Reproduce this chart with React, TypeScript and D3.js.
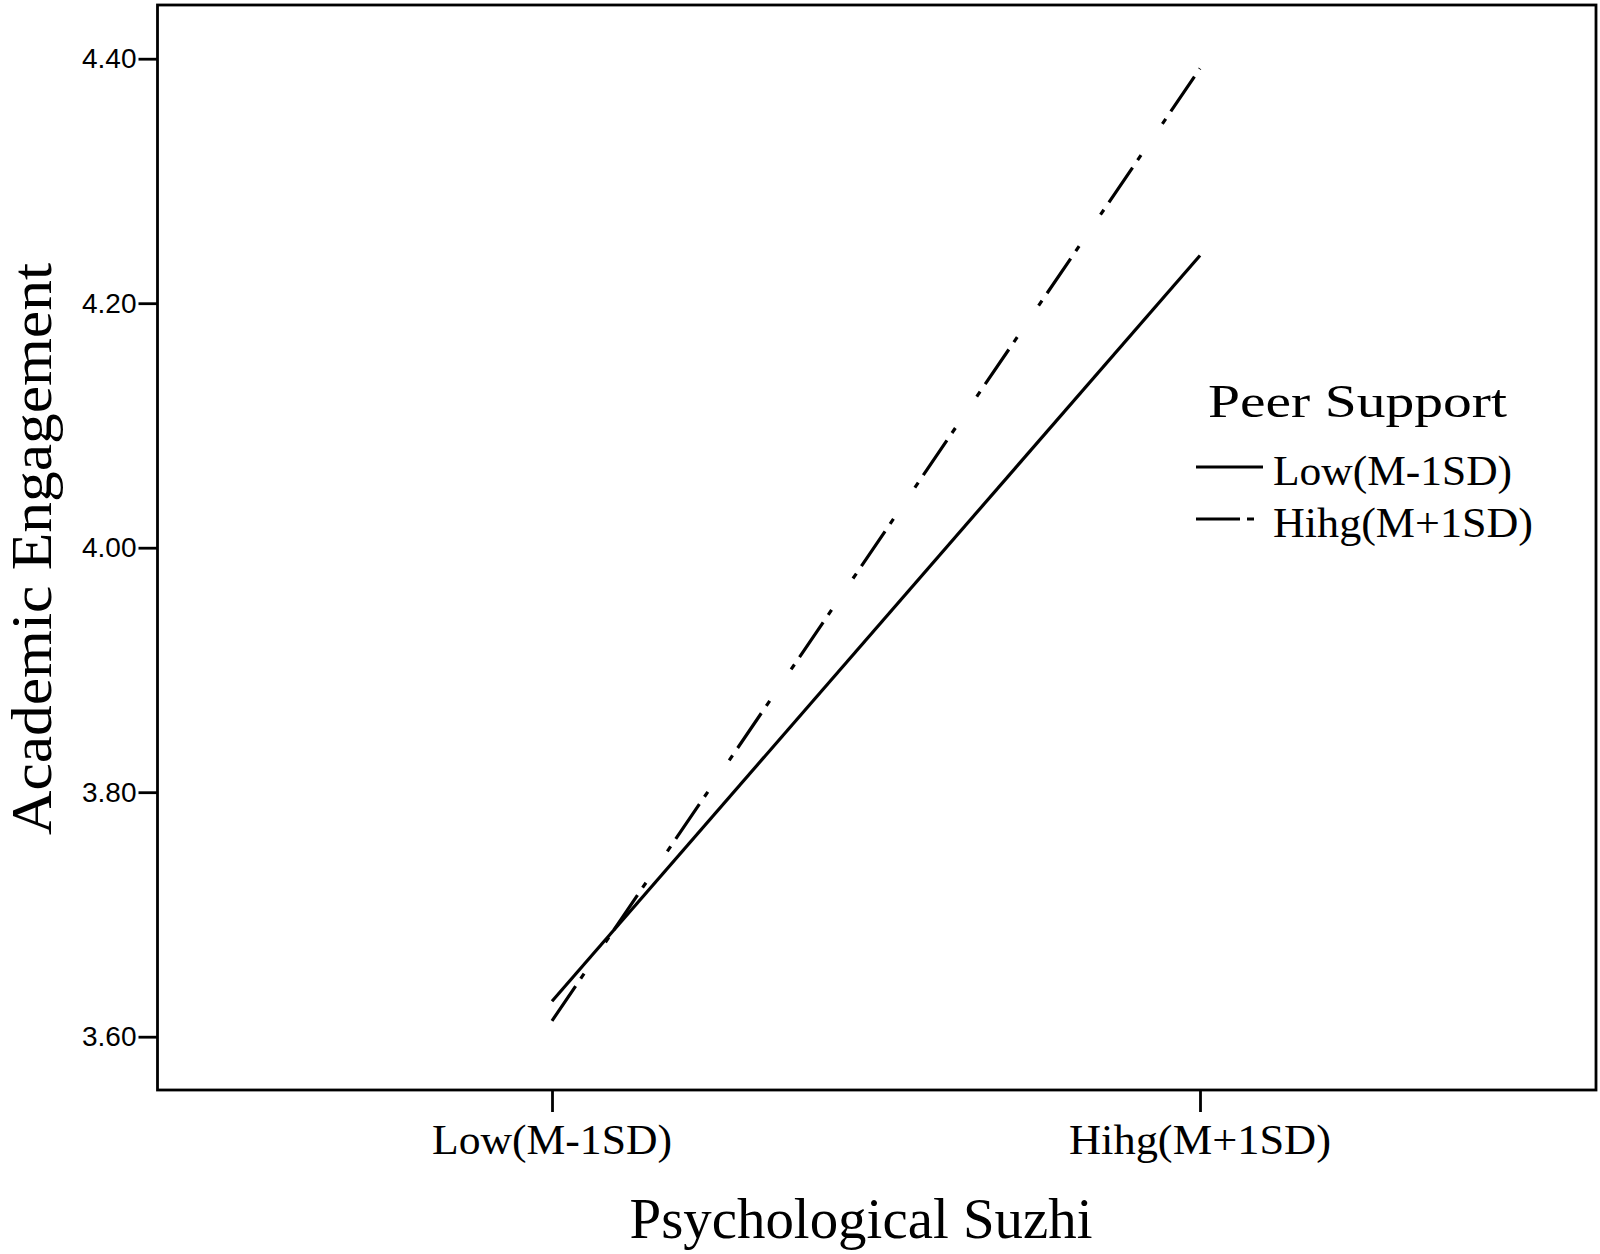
import React, { useEffect, useRef } from 'react';
import * as d3 from 'd3';

// x categories (Psychological Suzhi levels)
const categories = ['Low(M-1SD)', 'Hihg(M+1SD)'];
// Academic Engagement for each peer-support group
const lowPeer = [3.629, 4.239];
const highPeer = [3.613, 4.392];
const yTicks = [3.6, 3.8, 4.0, 4.2, 4.4];
const seriesNames = ['Low(M-1SD)', 'Hihg(M+1SD)'];

const W = 1600;
const H = 1254;
const serif = '"Liberation Serif", "Times New Roman", serif';
const sans = '"Liberation Sans", Arial, sans-serif';
const dashDot = '42 9 6 38 6 9';

const App: React.FC = () => {
  const svgRef = useRef<SVGSVGElement>(null);

  useEffect(() => {
    if (!svgRef.current) return;
    const svg = d3.select(svgRef.current);
    svg.selectAll('*').remove();

    // plot frame
    const frame = { left: 157.5, top: 5, right: 1596, bottom: 1090 };

    const x = d3.scalePoint<string>().domain(categories).range([552, 1200]);
    const y = d3.scaleLinear().domain([3.6, 4.4]).range([1036.7, 58.7]);

    svg.append('rect')
      .attr('x', 0).attr('y', 0).attr('width', W).attr('height', H)
      .attr('fill', '#fff');

    svg.append('rect')
      .attr('x', frame.left).attr('y', frame.top)
      .attr('width', frame.right - frame.left)
      .attr('height', frame.bottom - frame.top)
      .attr('fill', 'none')
      .attr('stroke', '#000')
      .attr('stroke-width', 2.8);

    // y axis
    const yAxis = d3.axisLeft(y)
      .tickValues(yTicks)
      .tickSize(19)
      .tickPadding(2)
      .tickFormat(d => d3.format('.2f')(d as number));
    const gy = svg.append('g')
      .attr('transform', `translate(${frame.left},0)`)
      .call(yAxis);
    gy.select('.domain').remove();
    gy.selectAll('line').attr('stroke', '#000').attr('stroke-width', 2.8);
    gy.selectAll('text')
      .attr('fill', '#000')
      .style('font-family', sans)
      .style('font-size', '28px');

    // x axis
    const xAxis = d3.axisBottom(x).tickSize(22).tickPadding(0);
    const gx = svg.append('g')
      .attr('transform', `translate(0,${frame.bottom})`)
      .call(xAxis);
    gx.select('.domain').remove();
    gx.selectAll('line').attr('stroke', '#000').attr('stroke-width', 2.8);
    gx.selectAll('text').remove();
    categories.forEach(c => {
      svg.append('text')
        .attr('x', x(c)!)
        .attr('y', 1154)
        .attr('text-anchor', 'middle')
        .attr('textLength', c === categories[0] ? 240 : 262)
        .attr('lengthAdjust', 'spacingAndGlyphs')
        .style('font-family', serif)
        .style('font-size', '43px')
        .text(c);
    });

    // axis titles
    svg.append('text')
      .attr('x', 861)
      .attr('y', 1238)
      .attr('text-anchor', 'middle')
      .attr('textLength', 463)
      .attr('lengthAdjust', 'spacingAndGlyphs')
      .style('font-family', serif)
      .style('font-size', '58px')
      .text('Psychological Suzhi');

    svg.append('text')
      .attr('transform', 'translate(51,549) rotate(-90)')
      .attr('text-anchor', 'middle')
      .attr('textLength', 572)
      .attr('lengthAdjust', 'spacingAndGlyphs')
      .style('font-family', serif)
      .style('font-size', '56px')
      .text('Academic Engagement');

    // lines
    const line = d3.line<number>()
      .x((_, i) => x(categories[i])!)
      .y(d => y(d));

    svg.append('path')
      .datum(lowPeer)
      .attr('d', line)
      .attr('fill', 'none')
      .attr('stroke', '#000')
      .attr('stroke-width', 3.2);

    svg.append('path')
      .datum(highPeer)
      .attr('d', line)
      .attr('fill', 'none')
      .attr('stroke', '#000')
      .attr('stroke-width', 3.2)
      .attr('stroke-dasharray', dashDot);

    // legend
    const lg = svg.append('g');
    lg.append('text')
      .attr('x', 1208)
      .attr('y', 417)
      .attr('textLength', 299)
      .attr('lengthAdjust', 'spacingAndGlyphs')
      .style('font-family', serif)
      .style('font-size', '47px')
      .text('Peer Support');

    const rows = [
      { name: seriesNames[0], dash: null as string | null, ly: 467, ty: 485, len: 239 },
      { name: seriesNames[1], dash: '44 7 7 50', ly: 519, ty: 537, len: 260 },
    ];
    rows.forEach(r => {
      lg.append('line')
        .attr('x1', 1196).attr('x2', r.dash ? 1254 : 1263)
        .attr('y1', r.ly).attr('y2', r.ly)
        .attr('stroke', '#000')
        .attr('stroke-width', 3.2)
        .attr('stroke-dasharray', r.dash);
      lg.append('text')
        .attr('x', 1273)
        .attr('y', r.ty)
        .attr('textLength', r.len)
        .attr('lengthAdjust', 'spacingAndGlyphs')
        .style('font-family', serif)
        .style('font-size', '42px')
        .text(r.name);
    });
  }, []);

  return (
    <svg
      ref={svgRef}
      width={W}
      height={H}
      style={{ position: 'absolute', left: 0, top: 0, display: 'block' }}
    />
  );
};

export default App;
